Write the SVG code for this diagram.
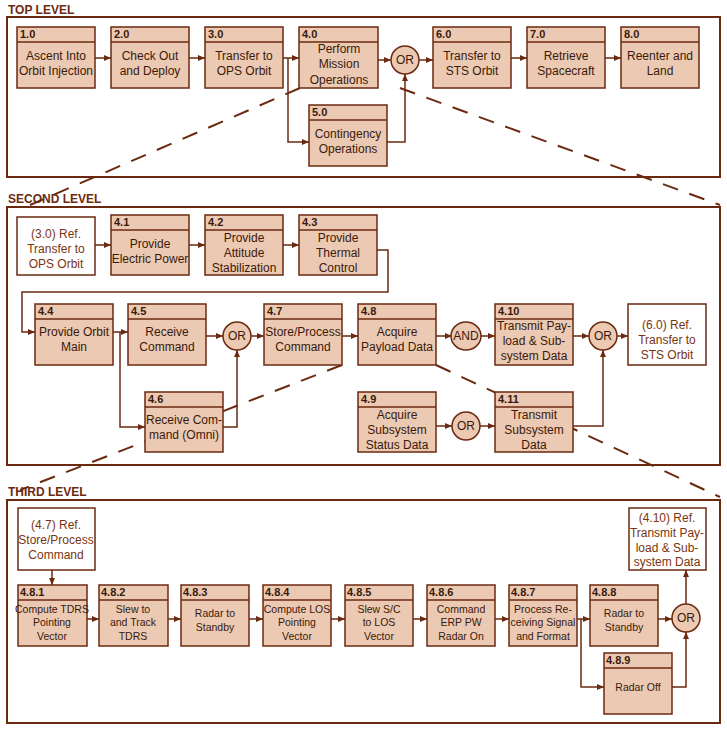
<svg xmlns="http://www.w3.org/2000/svg" width="727" height="730" viewBox="0 0 727 730">
<defs>
<marker id="ah" markerWidth="8" markerHeight="8" refX="7" refY="4" orient="auto" markerUnits="userSpaceOnUse"><path d="M0,1 L7,4 L0,7 z" fill="#6b2a10"/></marker>
<style>
.frame{fill:none;stroke:#6b2a10;stroke-width:2}
.lvl{font-family:"Liberation Sans",Arial,sans-serif;font-weight:bold;font-size:12px;fill:#6b2a10}
.box{fill:#ecc9b3;stroke:#6b2a10;stroke-width:1.5}
.ref{fill:#fff;stroke:#6b2a10;stroke-width:1.5}
.hd{stroke:#6b2a10;stroke-width:1.5}
.num{font-family:"Liberation Sans",Arial,sans-serif;font-weight:bold;font-size:11px;fill:#3a1a0a}
.t{font-family:"Liberation Sans",Arial,sans-serif;font-size:12px;fill:#3a1a0a;text-anchor:middle}
.rt{font-family:"Liberation Sans",Arial,sans-serif;font-size:12px;fill:#7a3410;text-anchor:middle}
.ln{fill:none;stroke:#6b2a10;stroke-width:1.5}
.dash{fill:none;stroke:#6b2a10;stroke-width:2;stroke-dasharray:16,12}
.gate{fill:#ecc9b3;stroke:#6b2a10;stroke-width:1.5}
</style>
</defs>
<rect width="727" height="730" fill="#fff"/>
<text class="lvl" x="8" y="14">TOP LEVEL</text>
<rect class="frame" x="7" y="17" width="713" height="160"/>
<text class="lvl" x="8" y="203">SECOND LEVEL</text>
<rect class="frame" x="7" y="207" width="713" height="258"/>
<text class="lvl" x="8" y="496">THIRD LEVEL</text>
<rect class="frame" x="7" y="500" width="713" height="223"/>

<g id="zoomlines">
<path class="dash" d="M300,88 L30,205"/>
<path class="dash" d="M400,88 L720,205"/>
<path class="dash" d="M342,365 L20,490"/>
<path class="dash" d="M436,365 L720,497"/>
</g>

<g id="connectors">
<path class="ln" d="M95,58 H111" marker-end="url(#ah)"/>
<path class="ln" d="M189,58 H205" marker-end="url(#ah)"/>
<path class="ln" d="M283,58 H299" marker-end="url(#ah)"/>
<path class="ln" d="M288,58 V142 H309" marker-end="url(#ah)"/>
<path class="ln" d="M378,60 H391" marker-end="url(#ah)"/>
<path class="ln" d="M387,142 H405 V74" marker-end="url(#ah)"/>
<path class="ln" d="M419,60 H433" marker-end="url(#ah)"/>
<path class="ln" d="M511,58 H527" marker-end="url(#ah)"/>
<path class="ln" d="M605,58 H621" marker-end="url(#ah)"/>

<path class="ln" d="M95,245 H111" marker-end="url(#ah)"/>
<path class="ln" d="M189,245 H205" marker-end="url(#ah)"/>
<path class="ln" d="M283,245 H299" marker-end="url(#ah)"/>
<path class="ln" d="M377,250 H388 V292 H22 V332 H35" marker-end="url(#ah)"/>
<path class="ln" d="M113,332 H128" marker-end="url(#ah)"/>
<path class="ln" d="M120,332 V427 H145" marker-end="url(#ah)"/>
<path class="ln" d="M206,336 H223" marker-end="url(#ah)"/>
<path class="ln" d="M223,427 H237 V350" marker-end="url(#ah)"/>
<path class="ln" d="M251,336 H264" marker-end="url(#ah)"/>
<path class="ln" d="M342,336 H358" marker-end="url(#ah)"/>
<path class="ln" d="M436,336 H452" marker-end="url(#ah)"/>
<path class="ln" d="M480,336 H495" marker-end="url(#ah)"/>
<path class="ln" d="M573,336 H589" marker-end="url(#ah)"/>
<path class="ln" d="M617,336 H628" marker-end="url(#ah)"/>
<path class="ln" d="M436,426 H452" marker-end="url(#ah)"/>
<path class="ln" d="M480,426 H495" marker-end="url(#ah)"/>
<path class="ln" d="M573,426 H603 V350" marker-end="url(#ah)"/>

<path class="ln" d="M52,570 V585" marker-end="url(#ah)"/>
<path class="ln" d="M87,619 H99" marker-end="url(#ah)"/>
<path class="ln" d="M168,619 H181" marker-end="url(#ah)"/>
<path class="ln" d="M249,619 H263" marker-end="url(#ah)"/>
<path class="ln" d="M331,619 H345" marker-end="url(#ah)"/>
<path class="ln" d="M413,619 H427" marker-end="url(#ah)"/>
<path class="ln" d="M495,619 H509" marker-end="url(#ah)"/>
<path class="ln" d="M577,619 H590" marker-end="url(#ah)"/>
<path class="ln" d="M581,619 V687 H604" marker-end="url(#ah)"/>
<path class="ln" d="M658,619 H672" marker-end="url(#ah)"/>
<path class="ln" d="M672,687 H686 V632" marker-end="url(#ah)"/>
<path class="ln" d="M686,604 V570" marker-end="url(#ah)"/>
</g>

<!-- Top level -->
<g id="n1_0"><rect class="box" x="17" y="27" width="78" height="61"/><line class="hd" x1="17" y1="42" x2="95" y2="42"/><text class="num" x="20" y="38">1.0</text><text class="t" x="56" y="60">Ascent Into</text><text class="t" x="56" y="75">Orbit Injection</text></g>
<g id="n2_0"><rect class="box" x="111" y="27" width="78" height="61"/><line class="hd" x1="111" y1="42" x2="189" y2="42"/><text class="num" x="114" y="38">2.0</text><text class="t" x="150" y="60">Check Out</text><text class="t" x="150" y="75">and Deploy</text></g>
<g id="n3_0"><rect class="box" x="205" y="27" width="78" height="61"/><line class="hd" x1="205" y1="42" x2="283" y2="42"/><text class="num" x="208" y="38">3.0</text><text class="t" x="244" y="60">Transfer to</text><text class="t" x="244" y="75">OPS Orbit</text></g>
<g id="n4_0"><rect class="box" x="299" y="27" width="79" height="61"/><line class="hd" x1="299" y1="42" x2="378" y2="42"/><text class="num" x="302" y="38">4.0</text><text class="t" x="339" y="53">Perform</text><text class="t" x="339" y="68">Mission</text><text class="t" x="339" y="84">Operations</text></g>
<g id="or1"><circle class="gate" cx="405" cy="60" r="14"/><text class="t" x="405" y="64">OR</text></g>
<g id="n5_0"><rect class="box" x="309" y="105" width="78" height="61"/><line class="hd" x1="309" y1="120" x2="387" y2="120"/><text class="num" x="312" y="116">5.0</text><text class="t" x="348" y="138">Contingency</text><text class="t" x="348" y="153">Operations</text></g>
<g id="n6_0"><rect class="box" x="433" y="27" width="78" height="61"/><line class="hd" x1="433" y1="42" x2="511" y2="42"/><text class="num" x="436" y="38">6.0</text><text class="t" x="472" y="60">Transfer to</text><text class="t" x="472" y="75">STS Orbit</text></g>
<g id="n7_0"><rect class="box" x="527" y="27" width="78" height="61"/><line class="hd" x1="527" y1="42" x2="605" y2="42"/><text class="num" x="530" y="38">7.0</text><text class="t" x="566" y="60">Retrieve</text><text class="t" x="566" y="75">Spacecraft</text></g>
<g id="n8_0"><rect class="box" x="621" y="27" width="78" height="61"/><line class="hd" x1="621" y1="42" x2="699" y2="42"/><text class="num" x="624" y="38">8.0</text><text class="t" x="660" y="60">Reenter and</text><text class="t" x="660" y="75">Land</text></g>

<!-- Second level -->
<g id="ref3_0"><rect class="ref" x="17" y="217" width="78" height="58"/><text class="rt" x="56" y="238">(3.0) Ref.</text><text class="rt" x="56" y="253">Transfer to</text><text class="rt" x="56" y="268">OPS Orbit</text></g>
<g id="n4_1"><rect class="box" x="111" y="215" width="78" height="60"/><line class="hd" x1="111" y1="230" x2="189" y2="230"/><text class="num" x="114" y="226">4.1</text><text class="t" x="150" y="248">Provide</text><text class="t" x="150" y="263">Electric Power</text></g>
<g id="n4_2"><rect class="box" x="205" y="215" width="78" height="60"/><line class="hd" x1="205" y1="230" x2="283" y2="230"/><text class="num" x="208" y="226">4.2</text><text class="t" x="244" y="242">Provide</text><text class="t" x="244" y="257">Attitude</text><text class="t" x="244" y="272">Stabilization</text></g>
<g id="n4_3"><rect class="box" x="299" y="215" width="78" height="60"/><line class="hd" x1="299" y1="230" x2="377" y2="230"/><text class="num" x="302" y="226">4.3</text><text class="t" x="338" y="242">Provide</text><text class="t" x="338" y="257">Thermal</text><text class="t" x="338" y="272">Control</text></g>
<g id="n4_4"><rect class="box" x="35" y="304" width="78" height="61"/><line class="hd" x1="35" y1="319" x2="113" y2="319"/><text class="num" x="38" y="315">4.4</text><text class="t" x="74" y="336">Provide Orbit</text><text class="t" x="74" y="351">Main</text></g>
<g id="n4_5"><rect class="box" x="128" y="304" width="78" height="61"/><line class="hd" x1="128" y1="319" x2="206" y2="319"/><text class="num" x="131" y="315">4.5</text><text class="t" x="167" y="336">Receive</text><text class="t" x="167" y="351">Command</text></g>
<g id="or2"><circle class="gate" cx="237" cy="336" r="14"/><text class="t" x="237" y="340">OR</text></g>
<g id="n4_6"><rect class="box" x="145" y="392" width="78" height="60"/><line class="hd" x1="145" y1="407" x2="223" y2="407"/><text class="num" x="148" y="403">4.6</text><text class="t" x="184" y="424">Receive Com-</text><text class="t" x="184" y="439">mand (Omni)</text></g>
<g id="n4_7"><rect class="box" x="264" y="304" width="78" height="61"/><line class="hd" x1="264" y1="319" x2="342" y2="319"/><text class="num" x="267" y="315">4.7</text><text class="t" x="303" y="336">Store/Process</text><text class="t" x="303" y="351">Command</text></g>
<g id="n4_8"><rect class="box" x="358" y="304" width="78" height="61"/><line class="hd" x1="358" y1="319" x2="436" y2="319"/><text class="num" x="361" y="315">4.8</text><text class="t" x="397" y="336">Acquire</text><text class="t" x="397" y="351">Payload Data</text></g>
<g id="and1"><ellipse class="gate" cx="466" cy="336" rx="15" ry="14"/><text class="t" x="466" y="340">AND</text></g>
<g id="n4_10"><rect class="box" x="495" y="304" width="78" height="61"/><line class="hd" x1="495" y1="319" x2="573" y2="319"/><text class="num" x="498" y="315">4.10</text><text class="t" x="534" y="330">Transmit Pay-</text><text class="t" x="534" y="345">load &amp; Sub-</text><text class="t" x="534" y="360">system Data</text></g>
<g id="or3"><circle class="gate" cx="603" cy="336" r="14"/><text class="t" x="603" y="340">OR</text></g>
<g id="ref6_0"><rect class="ref" x="628" y="304" width="78" height="61"/><text class="rt" x="667" y="329">(6.0)  Ref.</text><text class="rt" x="667" y="344">Transfer to</text><text class="rt" x="667" y="359">STS Orbit</text></g>
<g id="n4_9"><rect class="box" x="358" y="392" width="78" height="60"/><line class="hd" x1="358" y1="407" x2="436" y2="407"/><text class="num" x="361" y="403">4.9</text><text class="t" x="397" y="419">Acquire</text><text class="t" x="397" y="434">Subsystem</text><text class="t" x="397" y="449">Status Data</text></g>
<g id="or4"><circle class="gate" cx="466" cy="426" r="14"/><text class="t" x="466" y="430">OR</text></g>
<g id="n4_11"><rect class="box" x="495" y="392" width="78" height="60"/><line class="hd" x1="495" y1="407" x2="573" y2="407"/><text class="num" x="498" y="403">4.11</text><text class="t" x="534" y="419">Transmit</text><text class="t" x="534" y="434">Subsystem</text><text class="t" x="534" y="449">Data</text></g>

<!-- Third level -->
<g id="ref4_7"><rect class="ref" x="18" y="508" width="77" height="62"/><text class="rt" x="56" y="529">(4.7) Ref.</text><text class="rt" x="56" y="544">Store/Process</text><text class="rt" x="56" y="559">Command</text></g>
<g id="n4_8_1"><rect class="box" x="18" y="585" width="69" height="61"/><line class="hd" x1="18" y1="600" x2="87" y2="600"/><text class="num" x="20" y="596">4.8.1</text><text class="t" x="52" y="613" style="font-size:10.5px">Compute TDRS</text><text class="t" x="52" y="626" style="font-size:10.5px">Pointing</text><text class="t" x="52" y="640" style="font-size:10.5px">Vector</text></g>
<g id="n4_8_2"><rect class="box" x="99" y="585" width="69" height="61"/><line class="hd" x1="99" y1="600" x2="168" y2="600"/><text class="num" x="101" y="596">4.8.2</text><text class="t" x="133" y="613" style="font-size:10.5px">Slew to</text><text class="t" x="133" y="626" style="font-size:10.5px">and Track</text><text class="t" x="133" y="640" style="font-size:10.5px">TDRS</text></g>
<g id="n4_8_3"><rect class="box" x="181" y="585" width="68" height="61"/><line class="hd" x1="181" y1="600" x2="249" y2="600"/><text class="num" x="183" y="596">4.8.3</text><text class="t" x="215" y="617" style="font-size:10.5px">Radar to</text><text class="t" x="215" y="631" style="font-size:10.5px">Standby</text></g>
<g id="n4_8_4"><rect class="box" x="263" y="585" width="68" height="61"/><line class="hd" x1="263" y1="600" x2="331" y2="600"/><text class="num" x="265" y="596">4.8.4</text><text class="t" x="297" y="613" style="font-size:10.5px">Compute LOS</text><text class="t" x="297" y="626" style="font-size:10.5px">Pointing</text><text class="t" x="297" y="640" style="font-size:10.5px">Vector</text></g>
<g id="n4_8_5"><rect class="box" x="345" y="585" width="68" height="61"/><line class="hd" x1="345" y1="600" x2="413" y2="600"/><text class="num" x="347" y="596">4.8.5</text><text class="t" x="379" y="613" style="font-size:10.5px">Slew S/C</text><text class="t" x="379" y="626" style="font-size:10.5px">to LOS</text><text class="t" x="379" y="640" style="font-size:10.5px">Vector</text></g>
<g id="n4_8_6"><rect class="box" x="427" y="585" width="68" height="61"/><line class="hd" x1="427" y1="600" x2="495" y2="600"/><text class="num" x="429" y="596">4.8.6</text><text class="t" x="461" y="613" style="font-size:10.5px">Command</text><text class="t" x="461" y="626" style="font-size:10.5px">ERP PW</text><text class="t" x="461" y="640" style="font-size:10.5px">Radar On</text></g>
<g id="n4_8_7"><rect class="box" x="509" y="585" width="68" height="61"/><line class="hd" x1="509" y1="600" x2="577" y2="600"/><text class="num" x="511" y="596">4.8.7</text><text class="t" x="543" y="613" style="font-size:10.5px">Process Re-</text><text class="t" x="543" y="626" style="font-size:10.5px">ceiving Signal</text><text class="t" x="543" y="640" style="font-size:10.5px">and Format</text></g>
<g id="n4_8_8"><rect class="box" x="590" y="585" width="68" height="61"/><line class="hd" x1="590" y1="600" x2="658" y2="600"/><text class="num" x="592" y="596">4.8.8</text><text class="t" x="624" y="617" style="font-size:10.5px">Radar to</text><text class="t" x="624" y="631" style="font-size:10.5px">Standby</text></g>
<g id="n4_8_9"><rect class="box" x="604" y="653" width="68" height="61"/><line class="hd" x1="604" y1="668" x2="672" y2="668"/><text class="num" x="606" y="664">4.8.9</text><text class="t" x="638" y="691" style="font-size:10.5px">Radar Off</text></g>
<g id="or5"><circle class="gate" cx="686" cy="618" r="14"/><text class="t" x="686" y="622">OR</text></g>
<g id="ref4_10"><rect class="ref" x="629" y="508" width="77" height="62"/><text class="rt" x="667" y="522">(4.10) Ref.</text><text class="rt" x="667" y="537">Transmit Pay-</text><text class="rt" x="667" y="552">load &amp; Sub-</text><text class="rt" x="667" y="566">system Data</text></g>
</svg>
